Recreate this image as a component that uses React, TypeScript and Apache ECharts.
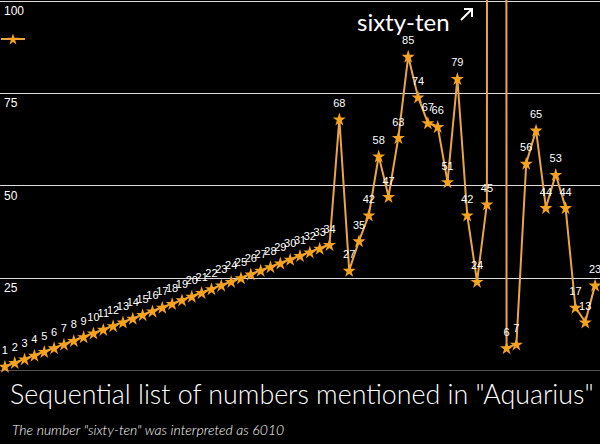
import React, { useEffect, useRef } from "react";
import * as echarts from "echarts";

const sequenceValues: number[] = [
  1, 2, 3, 4, 5, 6, 7, 8, 9, 10, 11, 12, 13, 14, 15, 16, 17, 18, 19, 20,
  21, 22, 23, 24, 25, 26, 27, 28, 29, 30, 31, 32, 33, 34,
];
const laterValues: number[] = [
  68, 27, 35, 42, 58, 47, 63, 85, 74, 67, 66, 51, 79, 42, 24, 45, 6010, 6, 7,
  56, 65, 44, 53, 44, 17, 13, 23,
];
const values: number[] = [...sequenceValues, ...laterValues];
const categories: string[] = values.map((_, i) => String(i + 1));
const yTicks = { min: 0, max: 100, interval: 25 };
const titleText = 'Sequential list of numbers mentioned in "Aquarius"';
const subText = 'The number "sixty-ten" was interpreted as 6010';
const noteText = "sixty-ten";

export default function App() {
  const ref = useRef<HTMLDivElement>(null);
  useEffect(() => {
    if (!ref.current) return;
    const chart = echarts.init(ref.current, undefined, { renderer: "svg" });
    chart.setOption({
      animation: false,
      backgroundColor: "#000",
      grid: { left: 0, right: 0, top: 1, bottom: 74 },
      legend: {
        left: 0,
        top: 32,
        padding: 0,
        itemWidth: 24,
        itemHeight: 14,
        formatter: () => "",
        data: ["Numbers"],
        selectedMode: false,
      },
      title: [
        {
          text: titleText,
          left: 5,
          top: 375,
          textStyle: {
            color: "#fff",
            fontFamily: "Lato",
            fontWeight: 300,
            fontSize: 26.8,
          },
        },
        {
          text: subText,
          left: 7,
          top: 417,
          textStyle: {
            color: "#fff",
            fontFamily: "Lato",
            fontStyle: "italic",
            fontWeight: 300,
            fontSize: 14,
          },
        },
        {
          text: noteText,
          left: 352,
          top: 4,
          textStyle: {
            color: "#fff",
            fontFamily: "Lato",
            fontWeight: 400,
            fontSize: 24,
          },
        },
      ],
      graphic: [
        {
          type: "line",
          shape: { x1: 461, y1: 20, x2: 472, y2: 9 },
          style: { stroke: "#fff", lineWidth: 2 },
        },
        {
          type: "polyline",
          shape: { points: [[464, 9], [472, 9], [472, 17]] },
          style: { stroke: "#fff", lineWidth: 2, fill: "none" },
        },
      ],
      xAxis: {
        type: "category",
        data: categories,
        boundaryGap: true,
        axisLine: { show: true, lineStyle: { color: "#555", width: 1 } },
        axisTick: { show: false },
        axisLabel: { show: false },
        splitLine: { show: false },
      },
      yAxis: {
        type: "value",
        min: yTicks.min,
        max: yTicks.max,
        interval: yTicks.interval,
        axisLine: { show: false },
        axisTick: { show: false },
        splitLine: { show: true, lineStyle: { color: "#ddd", width: 1 } },
        axisLabel: {
          inside: true,
          showMinLabel: false,
          color: "#fff",
          fontSize: 12,
          fontFamily: "Arial, Liberation Sans",
          verticalAlign: "top",
          margin: 4,
          padding: [4, 0, 0, 0],
        },
      },
      series: [
        {
          name: "Numbers",
          type: "line",
          data: values.map((v) =>
            v > 100 ? { value: v, label: { show: false } } : v
          ),
          symbol: "path://M50,0 L61.8,35.4 L99,35.4 L69,57.3 L80.3,92.7 L50,70.8 L19.7,92.7 L31,57.3 L1,35.4 L38.2,35.4 Z",
          symbolSize: 13,
          showSymbol: true,
          showAllSymbol: true,
          lineStyle: { color: "#eba544", width: 2 },
          itemStyle: { color: "#f5a21f" },
          clip: true,
          labelLayout: { hideOverlap: false },
          label: {
            show: true,
            position: "top",
            distance: 4,
            color: "#fff",
            fontSize: 11,
            fontFamily: "Arial, Liberation Sans",
          },
        },
      ],
    });
    return () => chart.dispose();
  }, []);
  return <div ref={ref} style={{ width: 600, height: 444, position: "absolute", left: 0, top: 0 }} />;
}
